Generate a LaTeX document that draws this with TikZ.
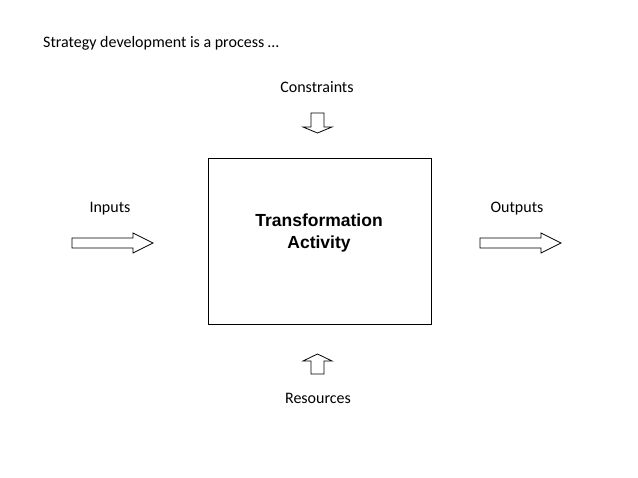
\documentclass[tikz,border=0pt]{standalone}
\usepackage{fontspec}
\setmainfont{Carlito}
\newfontfamily\arialb{Liberation Sans}
\begin{document}
\begin{tikzpicture}[x=1pt,y=-1pt,
  lbl/.style={font=\fontsize{16}{19}\selectfont, inner sep=0pt},
  arr/.style={draw=black, line width=0.8pt, fill=white, line join=miter}]
\useasboundingbox (0,0) rectangle (638,478);
\node[lbl, anchor=west] (title) at (43,43) {Strategy development is a process …};
\node[lbl] (constraints) at (317,87) {Constraints};
\node[lbl] (inputs) at (110,208.5) {Inputs};
\node[lbl] (outputs) at (517,208.5) {Outputs};
\node[lbl] (resources) at (318,398) {Resources};
\node[draw, line width=0.8pt, minimum width=223pt, minimum height=166pt, inner sep=0pt] (box) at (319.5,241) {};
\node[font=\arialb\bfseries\fontsize{17.5}{22}\selectfont, align=center, inner sep=0pt] (ta) at (319,233) {Transformation\\Activity};
% input arrow
\draw[arr] (72,238) -- (133,238) -- (133,233) -- (153,243) -- (133,253) -- (133,248) -- (72,248) -- cycle;
% output arrow
\draw[arr] (480,238) -- (541,238) -- (541,233) -- (561,243) -- (541,253) -- (541,248) -- (480,248) -- cycle;
% constraints arrow
\draw[arr] (311,113) -- (324,113) -- (324,127) -- (332,127) -- (317.5,133) -- (303,127) -- (311,127) -- cycle;
% resources arrow
\draw[arr] (311,374) -- (324,374) -- (324,361) -- (332,361) -- (317.5,354) -- (303,361) -- (311,361) -- cycle;
\end{tikzpicture}
\end{document}
